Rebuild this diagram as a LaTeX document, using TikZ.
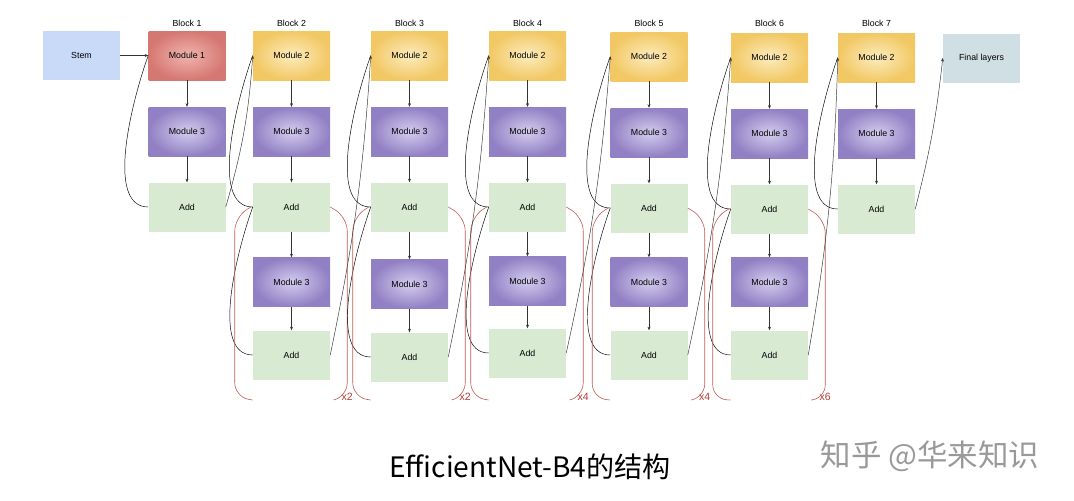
\documentclass[tikz,border=0pt]{standalone}
\usetikzlibrary{arrows.meta}
\usepackage{fontspec}
\setmainfont{Liberation Sans}
\newfontfamily\cjk{Noto Sans CJK SC}
\begin{document}
\begin{tikzpicture}[x=0.03cm,y=0.03cm,
  box/.style={minimum width=2.31cm,minimum height=1.47cm,inner sep=0pt,font=\fontsize{7.5}{9}\selectfont},
  mone/.style={box,shading=radial,inner color={rgb,255:red,240;green,180;blue,176},outer color={rgb,255:red,214;green,120;blue,114}},
  mtwo/.style={box,shading=radial,inner color={rgb,255:red,252;green,236;blue,190},outer color={rgb,255:red,242;green,200;blue,100}},
  mthree/.style={box,shading=radial,inner color={rgb,255:red,212;green,205;blue,238},outer color={rgb,255:red,145;green,128;blue,196}},
  addb/.style={box,fill={rgb,255:red,217;green,234;blue,211}},
  lbl/.style={font=\fontsize{7.5}{9}\selectfont},
  arr/.style={-{Stealth[length=3pt,width=2.5pt]},black!80,line width=0.4pt},
  skip/.style={arr,out=250,in=180,looseness=0.75},
  brk/.style={draw={rgb,255:red,190;green,90;blue,85},line width=0.5pt,rounded corners=12pt},
  rep/.style={text={rgb,255:red,180;green,60;blue,55},font=\fontsize{9}{10}\selectfont}]
\useasboundingbox (0,0) rectangle (1074,-500);
\node[box,fill={rgb,255:red,201;green,218;blue,248}] (stem) at (81.5,-55.5) {Stem};
\node[box,fill={rgb,255:red,208;green,223;blue,227}] (final) at (981.5,-58) {Final layers};
% block 1
\node[mone] (m2-1) at (187,-55.5) {Module 1};
\node[mthree] (m3-1) at (187,-131.5) {Module 3};
\node[addb] (a1-1) at (187,-207) {Add};
\node[lbl] (t1) at (187,-23) {Block 1};
\draw[arr] (stem.east) -- (m2-1.west);
\draw[arr] (m2-1) -- (m3-1);
\draw[arr] (m3-1) -- (a1-1);
\draw (m2-1.west) to[skip] (a1-1.west);
% blocks 2-6
\foreach \b/\x/\ya/\yb/\r/\dy in {2/291.5/282/355/x2/0,3/409.5/284/357/x2/0,4/527.5/281/353/x4/0,5/649/282/355/x4/1,6/769.5/282/355/x6/2}{
  \node[mtwo] (m2-\b) at (\x,-55.5-\dy) {Module 2};
  \node[mthree] (m3-\b) at (\x,-131.5-\dy) {Module 3};
  \node[addb] (a1-\b) at (\x,-207-\dy) {Add};
  \node[mthree] (m4-\b) at (\x,-\ya) {Module 3};
  \node[addb] (a2-\b) at (\x,-\yb) {Add};
  \node[lbl] (t\b) at (\x,-23) {Block \b};
  \draw[arr] (m2-\b) -- (m3-\b);
  \draw[arr] (m3-\b) -- (a1-\b);
  \draw[arr] (a1-\b) -- (m4-\b);
  \draw[arr] (m4-\b) -- (a2-\b);
  \draw (m2-\b.west) to[skip] (a1-\b.west);
  \draw (a1-\b.west) to[skip] (a2-\b.west);
  \coordinate (bl\b) at (\x-39,-400);
  \coordinate (br\b) at (\x+42,-400);
  \draw[brk] (a1-\b.west) ++(-2,0) -- ++(-16,-10) -- ++(0,-180) -- (bl\b);
  \draw[brk] (a1-\b.east) -- ++(17,-10) -- ++(0,-180) -- (br\b);
  \node[rep,anchor=west] (r\b) at (\x+46,-397) {\r};
}
% block 7
\node[mtwo] (m2-7) at (876.5,-57.5) {Module 2};
\node[mthree] (m3-7) at (876.5,-133.5) {Module 3};
\node[addb] (a1-7) at (876.5,-209) {Add};
\node[lbl] (t7) at (876.5,-23) {Block 7};
\draw[arr] (m2-7) -- (m3-7);
\draw[arr] (m3-7) -- (a1-7);
\draw (m2-7.west) to[skip] (a1-7.west);
% chain
\draw[arr] (a1-1.east) to[bend right=6] (m2-2.west);
\draw[arr] (a2-2.east) to[bend right=4] (m2-3.west);
\draw[arr] (a2-3.east) to[bend right=4] (m2-4.west);
\draw[arr] (a2-4.east) to[bend right=4] (m2-5.west);
\draw[arr] (a2-5.east) to[bend right=4] (m2-6.west);
\draw[arr] (a2-6.east) to[bend right=4] (m2-7.west);
\draw[arr] (a1-7.east) to[bend right=4] (final.west);
\node[font=\cjk\fontsize{24}{28}\selectfont] (cap) at (530,-467) {EfficientNet-B4的结构};
\node[font=\cjk\fontsize{26}{30}\selectfont,text=black!40] (wm) at (930,-456) {知乎 @华来知识};
\end{tikzpicture}
\end{document}
